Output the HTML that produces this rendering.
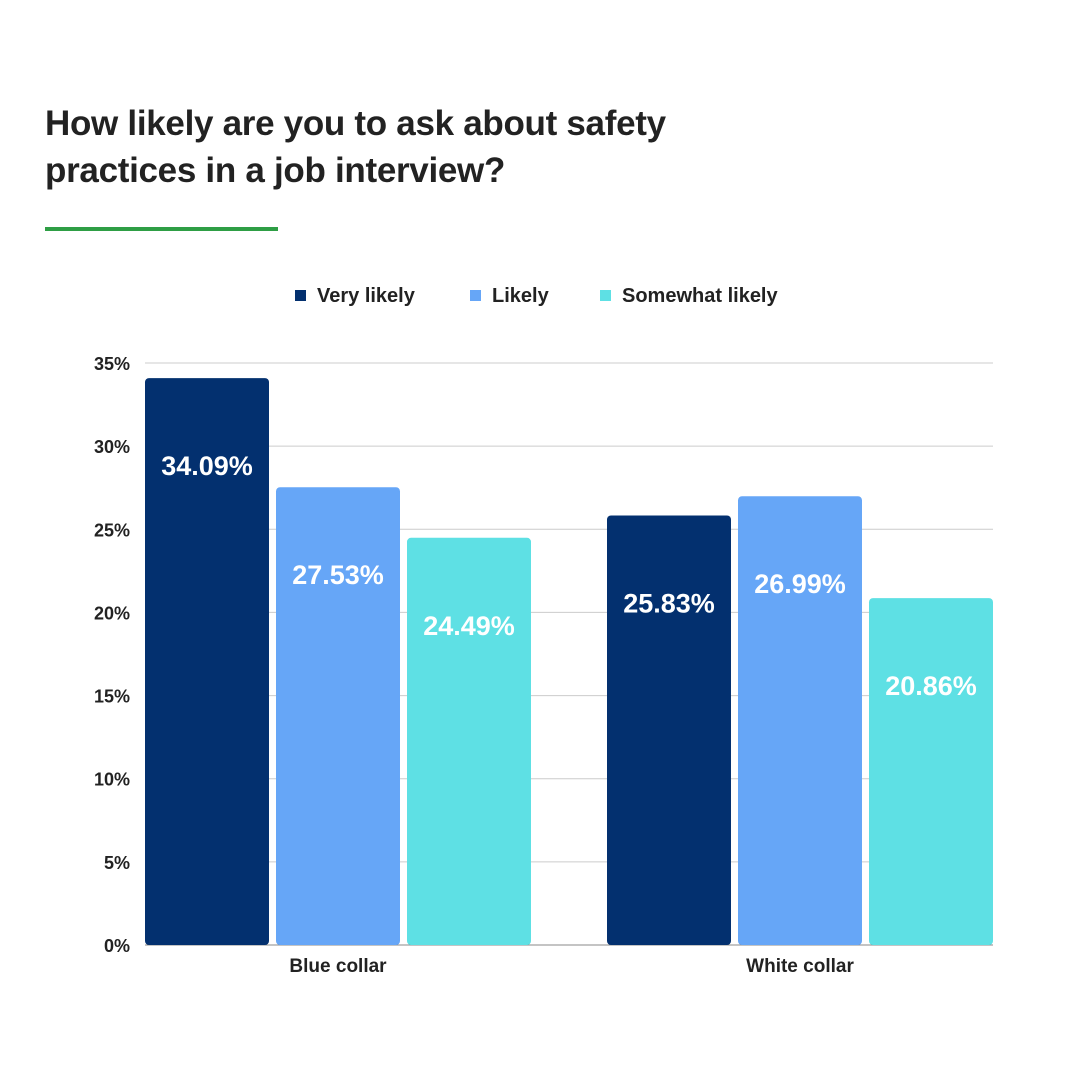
<!DOCTYPE html>
<html><head><meta charset="utf-8"><style>
body{margin:0;background:#fff;font-family:"Liberation Sans",sans-serif;}
#wrap{position:relative;width:1080px;height:1080px;overflow:hidden;}
h1{position:absolute;left:45px;top:100px;margin:0;font-size:35px;line-height:47px;font-weight:bold;color:#222;letter-spacing:-0.3px;}
#rule{position:absolute;left:45px;top:227px;width:233px;height:4px;background:#2e9e45;}
</style></head><body>
<div id="wrap">
<h1>How likely are you to ask about safety<br>practices in a job interview?</h1>
<div id="rule"></div>
<svg id="chart" width="1080" height="1080" style="position:absolute;left:0;top:0"></svg>
</div>
<script>
const categories=["Blue collar","White collar"];
const seriesNames=["Very likely","Likely","Somewhat likely"];
const veryLikely=[34.09,25.83];
const likely=[27.53,26.99];
const somewhatLikely=[24.49,20.86];
const yTicks=[0,5,10,15,20,25,30,35];
const colors=["#03306f","#66a6f7","#5ee0e4"];
const series=[veryLikely,likely,somewhatLikely];
const NS="http://www.w3.org/2000/svg";
const svg=document.getElementById('chart');
const x0=145,x1=993,y0=945,y1=363,yMax=35;
const y=v=>y0-(v/yMax)*(y0-y1);
const barW=124,gap=7;
const groupSpan=3*barW+2*gap;
const groupStep=(x1-x0-groupSpan)/(categories.length-1);
function mk(t,a,txt){const e=document.createElementNS(NS,t);for(const k in a)e.setAttribute(k,a[k]);if(txt!==undefined)e.textContent=txt;svg.appendChild(e);return e;}
yTicks.forEach(t=>{
 const l=mk('line',{x1:x0,x2:x1,y1:y(t),y2:y(t),stroke:t===0?'#888':'#ccc','stroke-width':1});
 
 
 const tx=mk('text',{x:130,y:y(t)+7,'text-anchor':'end','font-size':18,'font-weight':'bold',fill:'#222'},t+'%');
 
 
});
categories.forEach((c,ci)=>{
 const gx=x0+ci*groupStep;
 series.forEach((s,si)=>{
  const bx=gx+si*(barW+gap);
  const r=mk('rect',{x:bx,y:y(s[ci]),width:barW,height:y0-y(s[ci]),fill:colors[si],rx:4});
  
  
  const lt=mk('text',{x:bx+barW/2,y:y(s[ci])+97,'text-anchor':'middle','font-size':27,'font-weight':'bold',fill:'#fff'},s[ci].toFixed(2)+'%');
  
  
 });
 const ct=mk('text',{x:gx+groupSpan/2,y:972,'text-anchor':'middle','font-size':19,'font-weight':'bold',fill:'#222'},c);
 
 
});
const legX=[295,470,600];
seriesNames.forEach((n,i)=>{
 const sq=mk('rect',{x:legX[i],y:290,width:11,height:11,fill:colors[i]});
 
 
 const t=mk('text',{x:legX[i]+22,y:302,'font-size':20,'font-weight':'bold',fill:'#222'},n);
 
 
});
</script>
</body></html>
